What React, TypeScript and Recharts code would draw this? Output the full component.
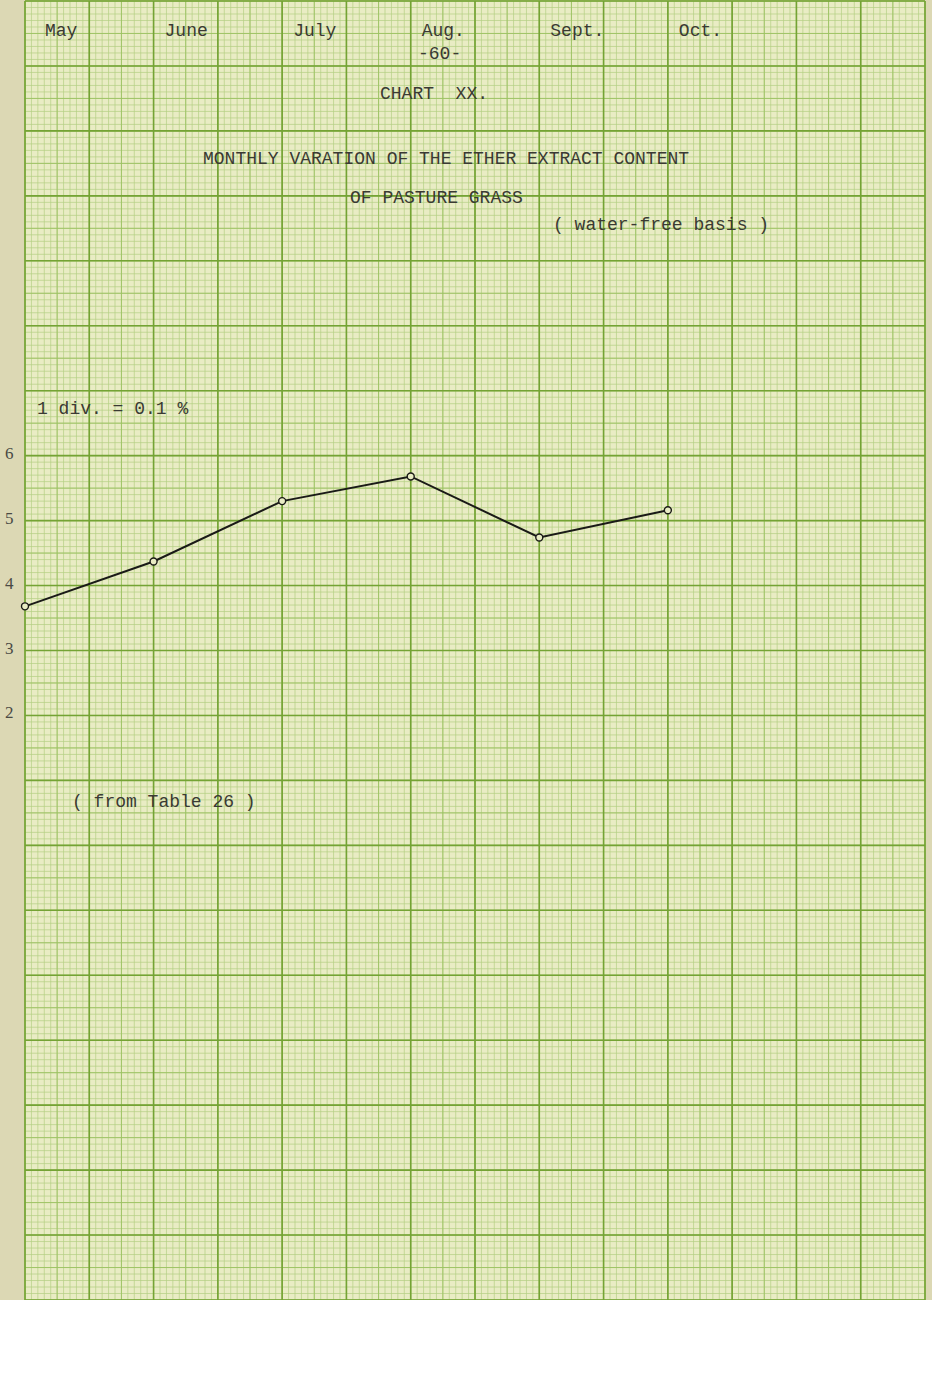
import React from 'react';
import { LineChart, Line, XAxis, YAxis, CartesianGrid } from 'recharts';

// values (1 div. = 0.1 %)
const months = ['May', 'June', 'July', 'Aug.', 'Sept.', 'Oct.'];
const etherExtract = [3.68, 4.37, 5.3, 5.68, 4.74, 5.16];
const yTicks = [2, 3, 4, 5, 6];
const monthTicks = [0, 1, 2, 3, 4, 5];

const data = months.map((m, i) => ({ x: i, month: m, value: etherExtract[i] }));

// graph paper rulings, in axis units
const range = (from: number, to: number, step: number) => {
  const out: number[] = [];
  const n = Math.round((to - from) / step);
  for (let i = 0; i <= n; i++) out.push(Math.round((from + i * step) * 1000) / 1000);
  return out;
};
const minorY = range(-7, 13, 0.1);
const midY = range(-7, 13, 0.5);
const majorY = range(-7, 13, 1);
const minorX = range(0, 7, 0.05);
const midX = range(0, 7, 0.25);
const majorX = range(0, 7, 0.5);

const paper = '#e9ecc4';
const ink = '#3a3a33';
const typeFont = '"Liberation Mono", "DejaVu Sans Mono", monospace';

const MonthTick = (props: any) => {
  const { x, payload } = props;
  // "May" was typed a little further in from the paper edge
  const dx = payload.value === 0 ? 20 : 11;
  return (
    <text x={x + dx} y={36} fontFamily={typeFont} fontSize={18} fill={ink}>
      {months[payload.value]}
    </text>
  );
};

const HandTick = (props: any) => {
  const { y, payload } = props;
  return (
    <text x={5} y={y + 3} fontFamily='"Liberation Serif", serif' fontSize={17} fill="#4a4a44">
      {payload.value}
    </text>
  );
};

const Note = ({ x, y, children }: { x: number; y: number; children: React.ReactNode }) => (
  <div
    style={{
      position: 'absolute',
      left: x,
      top: y - 11,
      fontFamily: typeFont,
      fontSize: 18,
      lineHeight: '20px',
      color: ink,
      whiteSpace: 'pre',
    }}
  >
    {children}
  </div>
);

export default function App() {
  return (
    <div style={{ position: 'absolute', left: 0, top: 0, width: 932, height: 1390, background: '#ffffff' }}>
      <div style={{ position: 'absolute', left: 0, top: 0, width: 932, height: 1300, background: '#dcd8b4' }}>
        <LineChart width={932} height={1300} data={data} margin={{ top: 0, right: 7, left: 0, bottom: 0 }}>
          <CartesianGrid
            fill={paper}
            stroke="#b3cf82"
            strokeWidth={0.7}
            horizontalValues={minorY}
            verticalValues={minorX}
          />
          <CartesianGrid
            fill="none"
            stroke="#9cc262"
            strokeWidth={0.9}
            horizontalValues={midY}
            verticalValues={midX}
          />
          <CartesianGrid
            fill="none"
            stroke="#74a334"
            strokeWidth={1.6}
            horizontalValues={majorY}
            verticalValues={majorX}
          />
          <XAxis
            type="number"
            dataKey="x"
            domain={[0, 7]}
            orientation="top"
            height={1}
            ticks={monthTicks}
            tick={<MonthTick />}
            axisLine={false}
            tickLine={false}
            interval={0}
          />
          <YAxis
            type="number"
            domain={[-7, 13]}
            width={25}
            ticks={yTicks}
            tick={<HandTick />}
            axisLine={false}
            tickLine={false}
            interval={0}
          />
          <Line
            type="linear"
            dataKey="value"
            stroke="#1a1a17"
            strokeWidth={2}
            dot={{ r: 3.5, stroke: '#1a1a17', strokeWidth: 1.4, fill: paper }}
            isAnimationActive={false}
          />
        </LineChart>
        <Note x={418} y={55}>-60-</Note>
        <Note x={380} y={95}>{'CHART  XX.'}</Note>
        <Note x={203} y={160}>MONTHLY VARATION OF THE ETHER EXTRACT CONTENT</Note>
        <Note x={350} y={199}>OF PASTURE GRASS</Note>
        <Note x={553} y={226}>( water-free basis )</Note>
        <Note x={37} y={410}>1 div. = 0.1 %</Note>
        <Note x={72} y={803}>( from Table 26 )</Note>
      </div>
    </div>
  );
}
